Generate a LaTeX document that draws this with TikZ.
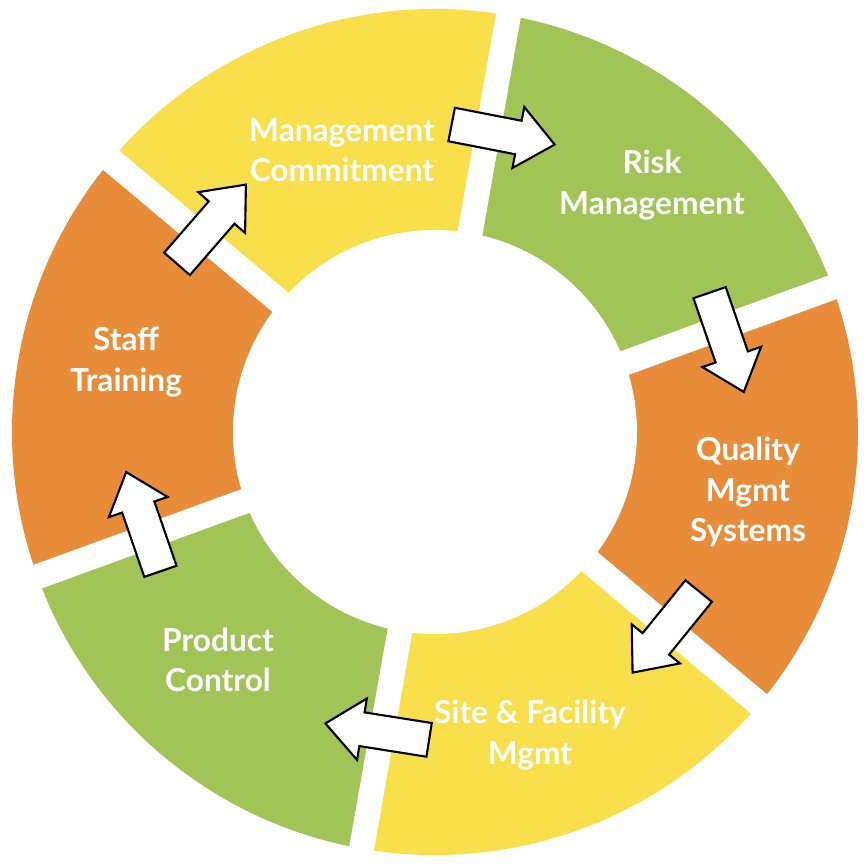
\documentclass[tikz,border=0pt]{standalone}
\usepackage{fontspec}
\setmainfont{Lato}
\usetikzlibrary{shapes.arrows}
\definecolor{ringyellow}{HTML}{F8DF4B}
\definecolor{ringgreen}{HTML}{A1C457}
\definecolor{ringorange}{HTML}{E98C3A}
\tikzset{
  label/.style={text=white, font=\fontsize{9}{11.5}\selectfont\bfseries, align=center},
  step arrow/.style={single arrow, draw=black, fill=white, semithick, inner sep=0pt,
    text height=0.16cm, text depth=0.16cm, text width=0pt,
    single arrow head extend=0.14cm, minimum height=1.05cm,
    single arrow tip angle=80},
}
\begin{document}
\begin{tikzpicture}
	\useasboundingbox (0,0) rectangle (8.65,8.65);
	\coordinate (c) at (4.35,4.33);

	% ring segments
	\foreach \a/\col in {80/ringyellow, 20/ringgreen, -40/ringorange, -100/ringyellow, -160/ringgreen, 140/ringorange}
		\fill[\col] (c) -- ++(\a:4.23) arc[start angle=\a, delta angle=60, radius=4.23] -- cycle;
	\fill[white] (c) circle (2.02);

	% gaps
	\foreach \a in {80, 20, -40, -100, -160, 140}
		\draw[white, line width=0.25cm] (c) -- ++(\a:4.4);

	% arrows
	\foreach \a [count=\i] in {79, 19, -39, -99, -161, 139}
		\node[step arrow, rotate=\a-90] (arr\i) at ([shift={(\a:3.05)}]c) {};

	% labels
	\node[label] (mgmt) at (3.42,7.15) {Management\\Commitment};
	\node[label] (risk) at (6.52,6.80) {Risk\\Management};
	\node[label] (qual) at (7.48,3.73) {Quality\\Mgmt\\Systems};
	\node[label] (site) at (5.30,1.30) {Site \& Facility\\Mgmt};
	\node[label] (prod) at (2.18,2.05) {Product\\Control};
	\node[label] (staff) at (1.26,5.03) {Staff\\Training};
\end{tikzpicture}
\end{document}
